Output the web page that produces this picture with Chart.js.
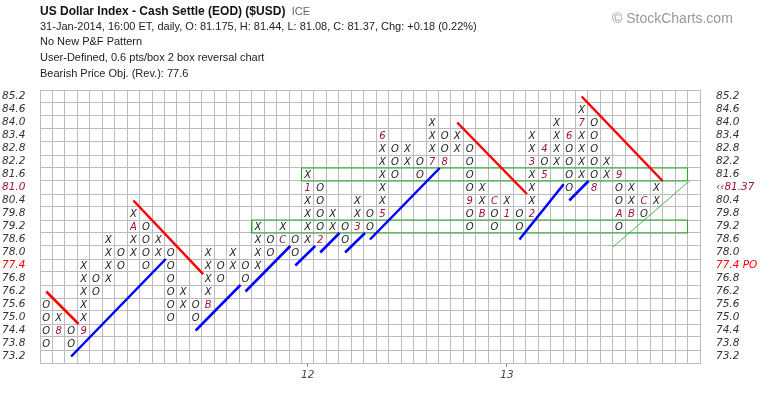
<!DOCTYPE html>
<html><head><meta charset="utf-8">
<script src="https://cdn.jsdelivr.net/npm/chart.js@4"></script>
<style>
body{margin:0;background:#fff;width:780px;height:402px;overflow:hidden;font-family:"Liberation Sans",Arial,sans-serif}
#wrap{position:relative;width:780px;height:402px}
.t{position:absolute;left:40px;font-size:11px;color:#222;white-space:nowrap}
</style></head><body>
<div id="wrap">
<canvas id="c" width="780" height="402"></canvas>
<div class="t" style="top:4px;font-size:12px;font-weight:bold;color:#111">US Dollar Index - Cash Settle (EOD) ($USD) <span style="font-weight:normal;color:#666;font-size:11px">&nbsp;ICE</span></div>
<div class="t" style="top:20px">31-Jan-2014, 16:00 ET, daily, O: 81.175, H: 81.44, L: 81.08, C: 81.37, Chg: +0.18 (0.22%)</div>
<div class="t" style="top:35px">No New P&amp;F Pattern</div>
<div class="t" style="top:51px">User-Defined, 0.6 pts/box 2 box reversal chart</div>
<div class="t" style="top:67px">Bearish Price Obj. (Rev.): 77.6</div>
<div class="t" style="left:612px;top:10px;font-size:14px;color:#999">© StockCharts.com</div>
</div>
<script>
// P&F columns: type, low, high
const colTypes = ['O','X','O','X','O','X','O','X','O','X','O','X','O','X','O','X','O','X','O','X','O','X','O','X','O','X','O','X','O','X','O','X','O','X','O','X','O','X','O','X','O','X','O','X','O','X','O','X','O','X'];
const colLow  = [73.8,74.4,73.8,74.4,76.2,76.8,77.4,78.0,77.4,78.0,75.0,75.6,75.0,75.6,76.8,77.4,76.8,77.4,78.0,78.6,78.0,78.6,78.6,79.2,78.6,79.2,79.2,79.8,81.6,82.2,81.6,82.2,82.2,82.8,79.2,79.8,79.2,79.8,79.2,79.8,81.6,82.2,81.0,81.6,81.0,81.6,79.2,79.8,79.8,80.4];
const colHigh = [75.6,75.0,74.4,77.4,76.8,78.6,78.0,79.8,79.2,78.6,78.0,76.2,75.6,78.0,77.4,78.0,77.4,79.2,78.6,79.2,78.6,81.6,81.0,79.8,79.2,80.4,79.8,83.4,82.8,82.8,82.2,84.0,83.4,83.4,82.8,81.0,80.4,80.4,79.8,83.4,82.8,84.0,83.4,84.6,84.0,82.2,81.6,81.0,80.4,81.0];
// month markers: column, price, label
const monthCols   = [1,3,7,13,19,21,22,25,27,27,31,32,34,35,36,37,39,39,40,40,42,43,44,46,46,47,48];
const monthPrices = [74.4,74.4,79.2,75.6,78.6,81.0,78.6,79.2,79.8,83.4,82.2,82.2,80.4,79.8,80.4,79.8,79.8,82.2,82.8,81.6,83.4,84.0,81.0,81.6,79.8,79.8,80.4];
const monthLabels = ['8','9','A','B','C','1','2','3','5','6','7','8','9','B','C','1','2','3','4','5','6','7','8','9','A','B','C'];
const priceTicks = [73.2,73.8,74.4,75.0,75.6,76.2,76.8,77.4,78.0,78.6,79.2,79.8,80.4,81.0,81.6,82.2,82.8,83.4,84.0,84.6,85.2];
const yearTicks = [21.5,37.5], yearLabels = ['12','13'];
// trend lines [col, price] endpoints
const redLines = [[[0.5,76.2],[3.1,74.7]],[[7.5,80.4],[13.1,77.0]],[[33.5,84.0],[39.1,80.7]],[[43.5,85.2],[50.0,81.3]]];
const blueLines = [[[2.5,73.2],[10.1,77.7]],[[12.5,74.4],[16.1,76.5]],[[16.5,76.2],[20.1,78.3]],[[20.5,77.4],[22.1,78.3]],[[22.5,78.0],[24.05,78.9]],[[24.5,78.0],[26.1,78.9]],[[26.5,78.6],[32.1,81.9]],[[38.5,78.6],[42.05,81.15]],[[42.5,80.4],[44.05,81.3]]];
const boxes = [[21,52,81.3,81.9],[17,52,78.9,79.5]];
const greenLine = [[46,78.25],[52.15,81.3]];

const cells=[];
colTypes.forEach((t,i)=>{for(let p=colLow[i];p<=colHigh[i]+0.01;p+=0.6){const pr=Math.round(p*10)/10;
 const mi=monthCols.findIndex((c,k)=>c===i&&Math.abs(monthPrices[k]-pr)<0.01);
 cells.push({x:i+0.5,y:pr,s:mi>=0?monthLabels[mi]:t,m:mi>=0});}});

const ds=[{type:'scatter',data:cells,pointRadius:0,pointHoverRadius:0,yAxisID:'y'}];
redLines.forEach(l=>ds.push({type:'line',data:l.map(p=>({x:p[0],y:p[1]})),borderColor:'#ff0000',borderWidth:2.5,pointRadius:0,yAxisID:'y'}));
blueLines.forEach(l=>ds.push({type:'line',data:l.map(p=>({x:p[0],y:p[1]})),borderColor:'#0000ff',borderWidth:2.5,pointRadius:0,yAxisID:'y'}));
boxes.forEach(b=>ds.push({type:'line',data:[{x:b[0],y:b[2]},{x:b[1],y:b[2]},{x:b[1],y:b[3]},{x:b[0],y:b[3]},{x:b[0],y:b[2]}],borderColor:'#22aa22',borderWidth:1,pointRadius:0,yAxisID:'y'}));
ds.push({type:'line',data:greenLine.map(p=>({x:p[0],y:p[1]})),borderColor:'#22aa22',borderWidth:0.8,pointRadius:0,yAxisID:'y'});

const textPlugin={id:'pf',afterDatasetsDraw(ch){const ctx=ch.ctx,meta=ch.getDatasetMeta(0);ctx.save();ctx.textAlign='center';ctx.textBaseline='middle';
 meta.data.forEach((el,i)=>{const c=cells[i];ctx.font='italic 10px "DejaVu Sans"';ctx.fillStyle=c.m?'#a0103c':'#222';ctx.fillText(c.s,el.x,el.y+0.5);});ctx.restore();}};

const lblColor=v=>{const x=Math.round(v*10)/10;return x===81.0?'#a0103c':x===77.4?'#ff0000':'#333';};
const fnt={family:'DejaVu Sans',size:10.5,style:'italic'};
new Chart(document.getElementById('c'),{data:{datasets:ds},plugins:[textPlugin],
options:{responsive:false,animation:false,plugins:{legend:{display:false},tooltip:{enabled:false}},
 layout:{padding:{top:90,left:2,right:0,bottom:0}},
 scales:{
  x:{type:'linear',min:0,max:53,position:'bottom',afterBuildTicks:s=>{s.ticks=[];for(let i=0;i<=53;i++)s.ticks.push({value:i});},
     ticks:{display:false,autoSkip:false},grid:{color:'#bbb',drawTicks:false},border:{color:'#bbb'},afterFit:s=>{s.height=0;}},
  x2:{type:'linear',min:0,max:53,position:'bottom',afterBuildTicks:s=>{s.ticks=yearTicks.map(v=>({value:v}));},
     ticks:{callback:(v,i)=>yearLabels[i],font:fnt,color:'#444',padding:2,autoSkip:false},grid:{display:true,drawOnChartArea:false,tickLength:4,color:'#888'},border:{display:false},afterFit:s=>{s.height=39;}},
  y:{type:'linear',min:72.9,max:85.5,position:'left',afterBuildTicks:s=>{s.ticks=[];for(let i=0;i<=21;i++)s.ticks.push({value:72.9+0.6*i});},
     ticks:{display:false,autoSkip:false},grid:{color:'#bbb',drawTicks:false},border:{color:'#bbb'},afterFit:s=>{s.width=0;}},
  yl:{type:'linear',min:72.9,max:85.5,position:'left',afterBuildTicks:s=>{s.ticks=priceTicks.map(v=>({value:v}));},
     ticks:{callback:v=>v.toFixed(1),font:fnt,color:c=>lblColor(c.tick.value),crossAlign:'far',padding:4,autoSkip:false},grid:{display:false},border:{display:false},afterFit:s=>{s.width=38;}},
  yr:{type:'linear',min:72.9,max:85.5,position:'right',afterBuildTicks:s=>{s.ticks=priceTicks.map(v=>({value:v}));},
     ticks:{callback:v=>{const x=Math.round(v*10)/10;return x===81.0?'‹‹81.37':x===77.4?'77.4 PO':v.toFixed(1);},font:fnt,color:c=>lblColor(c.tick.value),crossAlign:'near',padding:6,autoSkip:false},
     grid:{display:false,drawOnChartArea:false,tickLength:10,color:'#222'},border:{display:false},afterFit:s=>{s.width=80;}}
 }}});
</script></body></html>
